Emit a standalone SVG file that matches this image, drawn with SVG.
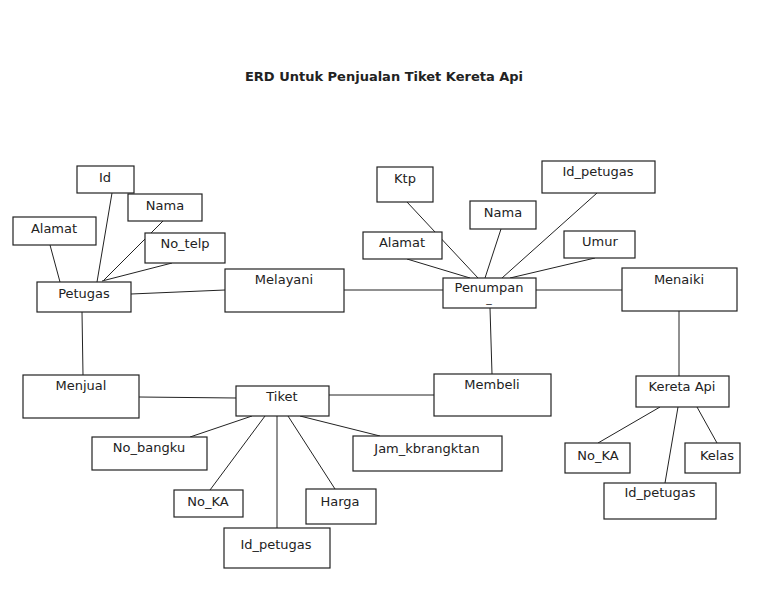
<svg xmlns="http://www.w3.org/2000/svg" width="768" height="594" viewBox="0 0 768 594">
<style>
rect{fill:#fff;stroke:#222;stroke-width:1.2}
line{stroke:#222;stroke-width:1}
text{font-family:"DejaVu Sans",sans-serif;font-size:13px;fill:#222;text-anchor:middle}
.t{font-weight:bold;font-size:13px}
</style>
<rect x="0" y="0" width="768" height="594" style="stroke:none"/>
<text class="t" x="384" y="81">ERD Untuk Penjualan Tiket Kereta Api</text>
<g id="connectors">
<line x1="50" y1="245" x2="60" y2="282"/>
<line x1="112" y1="193" x2="97" y2="282"/>
<line x1="163" y1="221" x2="104" y2="280"/>
<line x1="172" y1="263" x2="102" y2="281"/>
<line x1="131" y1="294" x2="225" y2="290"/>
<line x1="82" y1="312" x2="83" y2="375"/>
<line x1="139" y1="397" x2="236" y2="398"/>
<line x1="329" y1="395" x2="434" y2="395"/>
<line x1="344" y1="290" x2="443" y2="290"/>
<line x1="536" y1="290" x2="622" y2="290"/>
<line x1="490" y1="308" x2="492" y2="374"/>
<line x1="679" y1="311" x2="679" y2="376"/>
<line x1="407" y1="202" x2="478" y2="278"/>
<line x1="407" y1="259" x2="470" y2="278"/>
<line x1="501" y1="229" x2="485" y2="278"/>
<line x1="597" y1="193" x2="502" y2="278"/>
<line x1="595" y1="258" x2="510" y2="278"/>
<line x1="252" y1="416" x2="190" y2="437"/>
<line x1="265" y1="416" x2="210" y2="490"/>
<line x1="277" y1="416" x2="277" y2="528"/>
<line x1="288" y1="416" x2="335" y2="489"/>
<line x1="300" y1="416" x2="380" y2="436"/>
<line x1="660" y1="407" x2="598" y2="443"/>
<line x1="678" y1="407" x2="665" y2="483"/>
<line x1="697" y1="407" x2="717" y2="443"/>
</g>
<g id="id"><rect x="77" y="166" width="57" height="27"/><text x="105" y="182">Id</text></g>
<g id="nama"><rect x="128" y="194" width="74" height="27"/><text x="165" y="210">Nama</text></g>
<g id="alamat"><rect x="13" y="217" width="83" height="28"/><text x="54" y="233">Alamat</text></g>
<g id="notelp"><rect x="145" y="233" width="80" height="30"/><text x="185" y="248">No_telp</text></g>
<g id="petugas"><rect x="37" y="282" width="94" height="30"/><text x="84" y="298">Petugas</text></g>
<g id="melayani"><rect x="225" y="269" width="119" height="43"/><text x="284" y="284">Melayani</text></g>
<g id="menjual"><rect x="23" y="375" width="116" height="43"/><text x="81" y="390">Menjual</text></g>
<g id="tiket"><rect x="236" y="386" width="93" height="30"/><text x="282" y="401">Tiket</text></g>
<g id="membeli"><rect x="434" y="374" width="117" height="42"/><text x="492" y="389">Membeli</text></g>
<g id="ktp"><rect x="377" y="167" width="56" height="35"/><text x="405" y="183">Ktp</text></g>
<g id="nama2"><rect x="470" y="201" width="66" height="28"/><text x="503" y="217">Nama</text></g>
<g id="idpetugas1"><rect x="542" y="161" width="113" height="32"/><text x="598" y="176">Id_petugas</text></g>
<g id="alamat2"><rect x="363" y="232" width="79" height="27"/><text x="402" y="247">Alamat</text></g>
<g id="umur"><rect x="564" y="231" width="71" height="27"/><text x="600" y="246">Umur</text></g>
<g id="penumpang"><rect x="443" y="278" width="93" height="30"/><text x="489" y="292">Penumpan</text><text x="489" y="302" style="font-size:11px">_</text></g>
<g id="menaiki"><rect x="622" y="268" width="115" height="43"/><text x="679" y="284">Menaiki</text></g>
<g id="keretaapi"><rect x="636" y="376" width="93" height="31"/><text x="682" y="391">Kereta Api</text></g>
<g id="noka2"><rect x="565" y="443" width="65" height="30"/><text x="598" y="460">No_KA</text></g>
<g id="kelas"><rect x="685" y="443" width="55" height="30"/><text x="717" y="460">Kelas</text></g>
<g id="idpetugas3"><rect x="604" y="483" width="112" height="36"/><text x="660" y="497">Id_petugas</text></g>
<g id="nobangku"><rect x="92" y="437" width="115" height="33"/><text x="149" y="452">No_bangku</text></g>
<g id="jam"><rect x="353" y="436" width="149" height="35"/><text x="427" y="453">Jam_kbrangktan</text></g>
<g id="noka"><rect x="174" y="490" width="69" height="27"/><text x="208" y="506">No_KA</text></g>
<g id="harga"><rect x="306" y="489" width="70" height="35"/><text x="340" y="506">Harga</text></g>
<g id="idpetugas2"><rect x="224" y="528" width="106" height="40"/><text x="276" y="549">Id_petugas</text></g>
</svg>
